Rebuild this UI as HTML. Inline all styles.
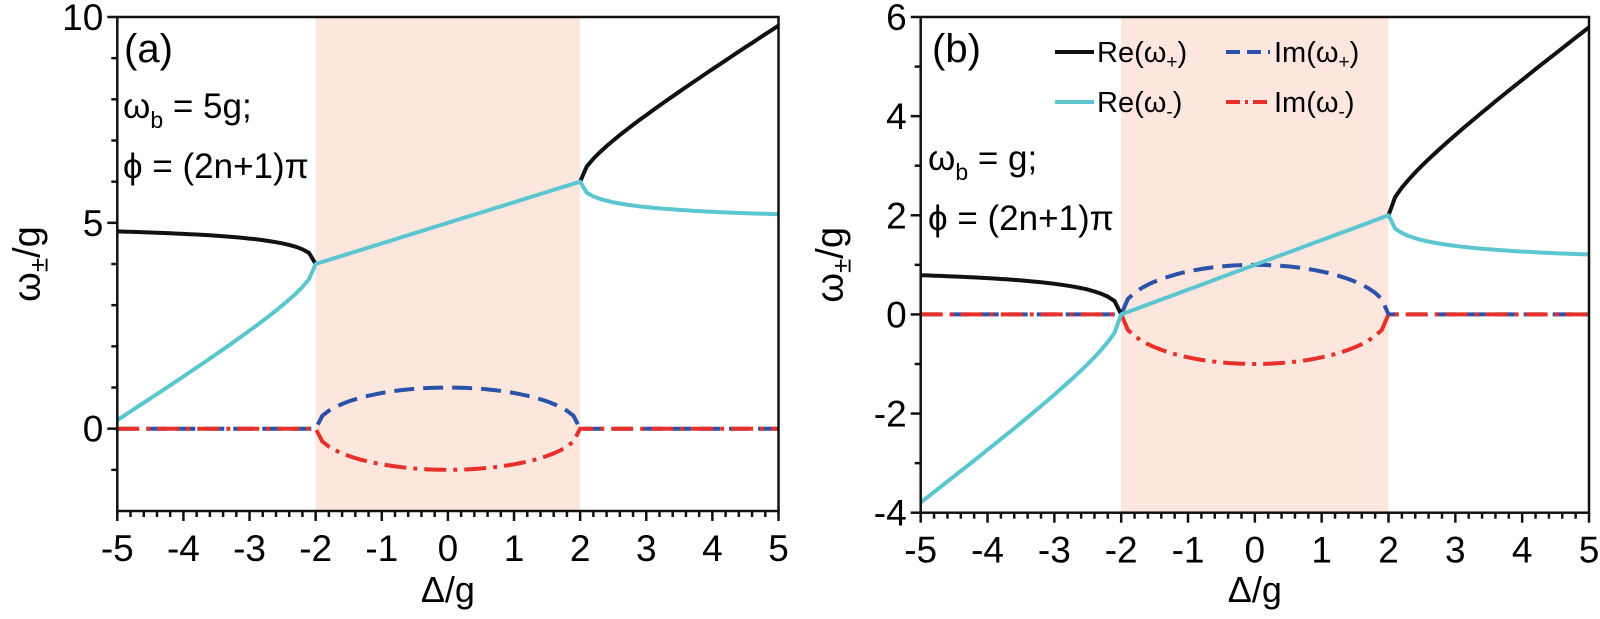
<!DOCTYPE html>
<html><head><meta charset="utf-8"><style>
body{margin:0;background:#fff}
svg{display:block;font-family:"Liberation Sans",sans-serif}
</style></head><body>
<svg id="s" width="1600" height="619" viewBox="0 0 1600 619" xmlns="http://www.w3.org/2000/svg"></svg>
<script>
const S=document.getElementById('s');let h='';
function panel(L,R,T,B,ymin,ymax,wb,yticks,yminor){
 const X=d=>L+(d+5)/10*(R-L), Y=v=>T+(ymax-v)/(ymax-ymin)*(B-T);
 h+=`<rect x="${X(-2)}" y="${T}" width="${X(2)-X(-2)}" height="${B-T}" fill="#fde6de"/>`;
 let up=[],lo=[],ip=[],im=[];
 for(let i=0;i<=100;i++){const d=Math.round((-5+i*0.1)*100)/100;const c=wb+d/2;const q=d*d/4-1;
  if(q>=-1e-9){const r=Math.sqrt(Math.max(q,0));up.push([d,c+r]);lo.push([d,c-r]);ip.push([d,0]);im.push([d,0]);}
  else{const r=Math.sqrt(-q);up.push([d,c]);lo.push([d,c]);ip.push([d,r]);im.push([d,-r]);}}
 const P=a=>a.map((p,i)=>(i?'L':'M')+X(p[0]).toFixed(1)+' '+Y(p[1]).toFixed(1)).join('');
 const blL=up.filter(p=>p[0]<=-2), blR=up.filter(p=>p[0]>=2);
 h+=`<path d="${P(ip)}" fill="none" stroke="#2a52a8" stroke-width="4" stroke-dasharray="20 9"/>`;
 h+=`<path d="${P(im)}" fill="none" stroke="#e8302a" stroke-width="4" stroke-dasharray="22 7 4 7"/>`;
 h+=`<path d="${P(blL)}" fill="none" stroke="#111" stroke-width="4"/><path d="${P(blR)}" fill="none" stroke="#111" stroke-width="4"/>`;
 h+=`<path d="${P(lo)}" fill="none" stroke="#5cc6d0" stroke-width="4" stroke-linejoin="round"/>`;
 h+=`<rect x="${L}" y="${T}" width="${R-L}" height="${B-T}" fill="none" stroke="#111" stroke-width="2.5"/>`;
 for(let d=-5;d<=5.001;d+=0.2){const k=Math.abs(d-Math.round(d))<0.01;h+=`<line x1="${X(d)}" x2="${X(d)}" y1="${B}" y2="${B+(k?10:6)}" stroke="#111" stroke-width="2.5"/>`;
  if(k)h+=`<text x="${X(d)}" y="${B+50}" font-size="37" text-anchor="middle">${Math.round(d)}</text>`;}
 for(const v of yticks){h+=`<line x1="${L-10}" x2="${L}" y1="${Y(v)}" y2="${Y(v)}" stroke="#111" stroke-width="2.5"/><text x="${L-14}" y="${Y(v)+13}" font-size="37" text-anchor="end">${v}</text>`;}
 for(const v of yminor)h+=`<line x1="${L-6}" x2="${L}" y1="${Y(v)}" y2="${Y(v)}" stroke="#111" stroke-width="2.5"/>`;
 h+=`<text x="${(L+R)/2}" y="602" font-size="36" text-anchor="middle">Δ/g</text>`;
 const cy=(T+B)/2;
 h+=`<text transform="translate(${L-78},${cy}) rotate(-90)" font-size="38" text-anchor="middle">ω<tspan font-size="26" dy="8">±</tspan><tspan dy="-8">/g</tspan></text>`;
}
panel(117.3,778.5,17,511,-2,10,5,[0,5,10],[-1,1,2,3,4,6,7,8,9]);
panel(920.7,1589,17,512.7,-4,6,1,[-4,-2,0,2,4,6],[-3,-1,1,3,5]);
h+=`<text x="124" y="62" font-size="40">(a)</text>`;
h+=`<text x="123" y="118" font-size="35">ω<tspan font-size="23" dy="10">b</tspan><tspan dy="-10"> = 5g;</tspan></text>`;
h+=`<text x="123" y="178" font-size="35">ϕ = (2n+1)π</text>`;
h+=`<text x="932" y="62" font-size="40">(b)</text>`;
h+=`<text x="928" y="170" font-size="35">ω<tspan font-size="23" dy="10">b</tspan><tspan dy="-10"> = g;</tspan></text>`;
h+=`<text x="928" y="230" font-size="35">ϕ = (2n+1)π</text>`;
h+=`<line x1="1055" x2="1094" y1="52" y2="52" stroke="#111" stroke-width="4"/><text x="1097" y="62" font-size="29">Re(ω<tspan font-size="19" dy="6">+</tspan><tspan dy="-6">)</tspan></text>`;
h+=`<line x1="1226" x2="1270" y1="52" y2="52" stroke="#2a52a8" stroke-width="4" stroke-dasharray="14 7"/><text x="1274" y="62" font-size="29">Im(ω<tspan font-size="19" dy="6">+</tspan><tspan dy="-6">)</tspan></text>`;
h+=`<line x1="1055" x2="1094" y1="102" y2="102" stroke="#5cc6d0" stroke-width="4"/><text x="1097" y="112" font-size="29">Re(ω<tspan font-size="19" dy="6">-</tspan><tspan dy="-6">)</tspan></text>`;
h+=`<line x1="1226" x2="1270" y1="102" y2="102" stroke="#e8302a" stroke-width="4" stroke-dasharray="14 5 3 5"/><text x="1274" y="112" font-size="29">Im(ω<tspan font-size="19" dy="6">-</tspan><tspan dy="-6">)</tspan></text>`;
S.innerHTML=h;
</script>
</body></html>
